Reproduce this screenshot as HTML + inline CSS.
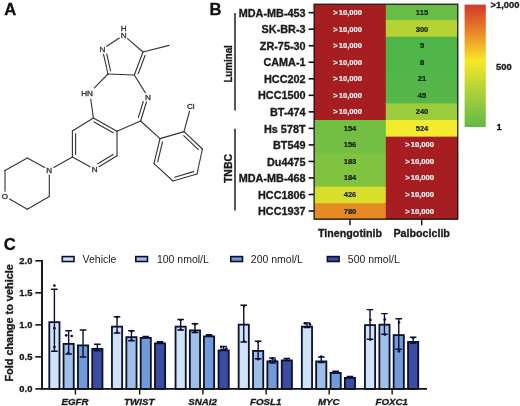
<!DOCTYPE html><html><head><meta charset="utf-8"><title>Figure</title><style>html,body{margin:0;padding:0;background:#fff}svg{display:block}text{font-family:"Liberation Sans",sans-serif}</style></head><body>
<svg width="520" height="406" viewBox="0 0 520 406">
<rect width="520" height="406" fill="#fff"/>
<g stroke="#343434" stroke-width="1.12" stroke-linecap="round" fill="none">
<line x1="119.26" y1="38.07" x2="106.74" y2="46.33"/>
<line x1="103.55" y1="54.27" x2="108.00" y2="74.00"/>
<line x1="106.78" y1="54.06" x2="110.55" y2="70.76"/>
<line x1="108.00" y1="74.00" x2="134.30" y2="75.00"/>
<line x1="134.30" y1="75.00" x2="143.00" y2="52.00"/>
<line x1="138.21" y1="73.70" x2="145.07" y2="55.56"/>
<line x1="143.00" y1="52.00" x2="127.53" y2="38.60"/>
<line x1="143.00" y1="52.00" x2="169.00" y2="45.40"/>
<line x1="108.00" y1="74.00" x2="94.35" y2="87.95"/>
<line x1="90.71" y1="99.04" x2="93.40" y2="118.00"/>
<line x1="93.40" y1="118.00" x2="117.00" y2="131.30"/>
<line x1="94.09" y1="122.06" x2="113.16" y2="132.81"/>
<line x1="117.00" y1="131.30" x2="140.60" y2="121.00"/>
<line x1="140.60" y1="121.00" x2="146.47" y2="101.97"/>
<line x1="138.31" y1="117.57" x2="143.26" y2="101.50"/>
<line x1="145.25" y1="92.59" x2="134.30" y2="75.00"/>
<line x1="117.00" y1="131.30" x2="117.00" y2="155.80"/>
<line x1="117.00" y1="155.80" x2="99.04" y2="166.70"/>
<line x1="113.12" y1="154.41" x2="97.81" y2="163.71"/>
<line x1="90.06" y1="166.86" x2="72.40" y2="157.00"/>
<line x1="72.40" y1="157.00" x2="72.40" y2="131.00"/>
<line x1="75.60" y1="154.40" x2="75.60" y2="133.60"/>
<line x1="72.40" y1="131.00" x2="93.40" y2="118.00"/>
<line x1="72.40" y1="157.00" x2="53.82" y2="167.53"/>
<line x1="44.74" y1="167.59" x2="27.30" y2="158.00"/>
<line x1="27.30" y1="158.00" x2="5.00" y2="170.40"/>
<line x1="5.00" y1="170.40" x2="5.00" y2="191.20"/>
<line x1="9.51" y1="198.99" x2="27.30" y2="209.20"/>
<line x1="27.30" y1="209.20" x2="49.30" y2="196.40"/>
<line x1="49.30" y1="196.40" x2="49.30" y2="175.30"/>
<line x1="140.60" y1="121.00" x2="160.00" y2="138.60"/>
<line x1="160.00" y1="138.60" x2="184.00" y2="131.60"/>
<line x1="184.00" y1="131.60" x2="202.40" y2="149.00"/>
<line x1="183.69" y1="135.71" x2="198.31" y2="149.54"/>
<line x1="202.40" y1="149.00" x2="197.00" y2="174.00"/>
<line x1="197.00" y1="174.00" x2="173.00" y2="181.00"/>
<line x1="193.61" y1="171.66" x2="174.60" y2="177.20"/>
<line x1="173.00" y1="181.00" x2="154.00" y2="163.60"/>
<line x1="154.00" y1="163.60" x2="160.00" y2="138.60"/>
<line x1="157.72" y1="161.82" x2="162.50" y2="141.88"/>
<line x1="184.00" y1="131.60" x2="189.50" y2="111.23"/>
</g>
<text x="123.60" y="38.10" font-size="8.1" fill="#343434" stroke="#343434" stroke-width="0.35" text-anchor="middle">N</text>
<text x="123.60" y="30.50" font-size="8.1" fill="#343434" stroke="#343434" stroke-width="0.35" text-anchor="middle">H</text>
<text x="102.40" y="52.10" font-size="8.1" fill="#343434" stroke="#343434" stroke-width="0.35" text-anchor="middle">N</text>
<text x="92.90" y="95.50" font-size="8.1" fill="#343434" stroke="#343434" stroke-width="0.35" text-anchor="end">HN</text>
<text x="148.00" y="99.90" font-size="8.1" fill="#343434" stroke="#343434" stroke-width="0.35" text-anchor="middle">N</text>
<text x="94.60" y="172.30" font-size="8.1" fill="#343434" stroke="#343434" stroke-width="0.35" text-anchor="middle">N</text>
<text x="49.30" y="173.00" font-size="8.1" fill="#343434" stroke="#343434" stroke-width="0.35" text-anchor="middle">N</text>
<text x="5.00" y="199.30" font-size="8.1" fill="#343434" stroke="#343434" stroke-width="0.35" text-anchor="middle">O</text>
<text x="190.80" y="109.30" font-size="8.1" fill="#343434" stroke="#343434" stroke-width="0.35" text-anchor="middle">Cl</text>
<text x="4.3" y="15.0" font-size="16.6" font-weight="bold" fill="#111" stroke="#111" stroke-width="0.32">A</text>
<text x="209.4" y="15.0" font-size="16.6" font-weight="bold" fill="#111" stroke="#111" stroke-width="0.32">B</text>
<rect x="384.8" y="4.20" width="73.00" height="214.90" fill="#69bc45"/>
<rect x="314.1" y="4.20" width="71.70" height="214.90" fill="#a61e22"/>
<rect x="384.8" y="20.10" width="73.00" height="199.00" fill="#b5d334"/>
<rect x="314.1" y="20.10" width="71.70" height="199.00" fill="#a61e22"/>
<rect x="384.8" y="36.75" width="73.00" height="182.35" fill="#50b548"/>
<rect x="314.1" y="36.75" width="71.70" height="182.35" fill="#a61e22"/>
<rect x="384.8" y="53.40" width="73.00" height="165.70" fill="#50b548"/>
<rect x="314.1" y="53.40" width="71.70" height="165.70" fill="#a61e22"/>
<rect x="384.8" y="70.05" width="73.00" height="149.05" fill="#52b648"/>
<rect x="314.1" y="70.05" width="71.70" height="149.05" fill="#a61e22"/>
<rect x="384.8" y="86.70" width="73.00" height="132.40" fill="#56b747"/>
<rect x="314.1" y="86.70" width="71.70" height="132.40" fill="#a61e22"/>
<rect x="384.8" y="103.35" width="73.00" height="115.75" fill="#9ccb3b"/>
<rect x="314.1" y="103.35" width="71.70" height="115.75" fill="#a61e22"/>
<rect x="384.8" y="120.00" width="73.00" height="99.10" fill="#f4ea2e"/>
<rect x="314.1" y="120.00" width="71.70" height="99.10" fill="#73bf44"/>
<rect x="384.8" y="136.65" width="73.00" height="82.45" fill="#a61e22"/>
<rect x="314.1" y="136.65" width="71.70" height="82.45" fill="#74bf44"/>
<rect x="384.8" y="153.30" width="73.00" height="65.80" fill="#a61e22"/>
<rect x="314.1" y="153.30" width="71.70" height="65.80" fill="#80c341"/>
<rect x="384.8" y="169.95" width="73.00" height="49.15" fill="#a61e22"/>
<rect x="314.1" y="169.95" width="71.70" height="49.15" fill="#80c341"/>
<rect x="384.8" y="186.60" width="73.00" height="32.50" fill="#a61e22"/>
<rect x="314.1" y="186.60" width="71.70" height="32.50" fill="#d9de2a"/>
<rect x="384.8" y="203.25" width="73.00" height="15.85" fill="#a61e22"/>
<rect x="314.1" y="203.25" width="71.70" height="15.85" fill="#e68a25"/>
<rect x="314.1" y="4.2" width="143.7" height="214.9" fill="none" stroke="#111" stroke-width="1.2"/>
<line x1="308.6" x2="314.1" y1="12.67" y2="12.67" stroke="#111" stroke-width="1.6"/>
<text x="305.6" y="16.82" font-size="10.85" font-weight="bold" fill="#1a1a1a" stroke="#1a1a1a" stroke-width="0.32" text-anchor="end">MDA-MB-453</text>
<text x="347.60" y="15.17" font-size="7.6" font-weight="bold" fill="#fff" stroke="#fff" stroke-width="0.15" text-anchor="middle">&gt;<tspan dx="1.1">10,000</tspan></text>
<text x="422.00" y="15.17" font-size="7.6" font-weight="bold" fill="#0e1a0c" stroke="#0e1a0c" stroke-width="0.15" text-anchor="middle">115</text>
<line x1="308.6" x2="314.1" y1="29.20" y2="29.20" stroke="#111" stroke-width="1.6"/>
<text x="305.6" y="33.35" font-size="10.85" font-weight="bold" fill="#1a1a1a" stroke="#1a1a1a" stroke-width="0.32" text-anchor="end">SK-BR-3</text>
<text x="347.60" y="31.70" font-size="7.6" font-weight="bold" fill="#fff" stroke="#fff" stroke-width="0.15" text-anchor="middle">&gt;<tspan dx="1.1">10,000</tspan></text>
<text x="422.00" y="31.70" font-size="7.6" font-weight="bold" fill="#0e1a0c" stroke="#0e1a0c" stroke-width="0.15" text-anchor="middle">300</text>
<line x1="308.6" x2="314.1" y1="45.73" y2="45.73" stroke="#111" stroke-width="1.6"/>
<text x="305.6" y="49.88" font-size="10.85" font-weight="bold" fill="#1a1a1a" stroke="#1a1a1a" stroke-width="0.32" text-anchor="end">ZR-75-30</text>
<text x="347.60" y="48.23" font-size="7.6" font-weight="bold" fill="#fff" stroke="#fff" stroke-width="0.15" text-anchor="middle">&gt;<tspan dx="1.1">10,000</tspan></text>
<text x="422.00" y="48.23" font-size="7.6" font-weight="bold" fill="#0e1a0c" stroke="#0e1a0c" stroke-width="0.15" text-anchor="middle">5</text>
<line x1="308.6" x2="314.1" y1="62.26" y2="62.26" stroke="#111" stroke-width="1.6"/>
<text x="305.6" y="66.41" font-size="10.85" font-weight="bold" fill="#1a1a1a" stroke="#1a1a1a" stroke-width="0.32" text-anchor="end">CAMA-1</text>
<text x="347.60" y="64.76" font-size="7.6" font-weight="bold" fill="#fff" stroke="#fff" stroke-width="0.15" text-anchor="middle">&gt;<tspan dx="1.1">10,000</tspan></text>
<text x="422.00" y="64.76" font-size="7.6" font-weight="bold" fill="#0e1a0c" stroke="#0e1a0c" stroke-width="0.15" text-anchor="middle">8</text>
<line x1="308.6" x2="314.1" y1="78.79" y2="78.79" stroke="#111" stroke-width="1.6"/>
<text x="305.6" y="82.94" font-size="10.85" font-weight="bold" fill="#1a1a1a" stroke="#1a1a1a" stroke-width="0.32" text-anchor="end">HCC202</text>
<text x="347.60" y="81.29" font-size="7.6" font-weight="bold" fill="#fff" stroke="#fff" stroke-width="0.15" text-anchor="middle">&gt;<tspan dx="1.1">10,000</tspan></text>
<text x="422.00" y="81.29" font-size="7.6" font-weight="bold" fill="#0e1a0c" stroke="#0e1a0c" stroke-width="0.15" text-anchor="middle">21</text>
<line x1="308.6" x2="314.1" y1="95.32" y2="95.32" stroke="#111" stroke-width="1.6"/>
<text x="305.6" y="99.47" font-size="10.85" font-weight="bold" fill="#1a1a1a" stroke="#1a1a1a" stroke-width="0.32" text-anchor="end">HCC1500</text>
<text x="347.60" y="97.82" font-size="7.6" font-weight="bold" fill="#fff" stroke="#fff" stroke-width="0.15" text-anchor="middle">&gt;<tspan dx="1.1">10,000</tspan></text>
<text x="422.00" y="97.82" font-size="7.6" font-weight="bold" fill="#0e1a0c" stroke="#0e1a0c" stroke-width="0.15" text-anchor="middle">45</text>
<line x1="308.6" x2="314.1" y1="111.85" y2="111.85" stroke="#111" stroke-width="1.6"/>
<text x="305.6" y="116.00" font-size="10.85" font-weight="bold" fill="#1a1a1a" stroke="#1a1a1a" stroke-width="0.32" text-anchor="end">BT-474</text>
<text x="347.60" y="114.35" font-size="7.6" font-weight="bold" fill="#fff" stroke="#fff" stroke-width="0.15" text-anchor="middle">&gt;<tspan dx="1.1">10,000</tspan></text>
<text x="422.00" y="114.35" font-size="7.6" font-weight="bold" fill="#0e1a0c" stroke="#0e1a0c" stroke-width="0.15" text-anchor="middle">240</text>
<line x1="308.6" x2="314.1" y1="128.38" y2="128.38" stroke="#111" stroke-width="1.6"/>
<text x="305.6" y="132.53" font-size="10.85" font-weight="bold" fill="#1a1a1a" stroke="#1a1a1a" stroke-width="0.32" text-anchor="end">Hs 578T</text>
<text x="350.00" y="130.88" font-size="7.6" font-weight="bold" fill="#0e1a0c" stroke="#0e1a0c" stroke-width="0.15" text-anchor="middle">154</text>
<text x="422.00" y="130.88" font-size="7.6" font-weight="bold" fill="#0e1a0c" stroke="#0e1a0c" stroke-width="0.15" text-anchor="middle">524</text>
<line x1="308.6" x2="314.1" y1="144.91" y2="144.91" stroke="#111" stroke-width="1.6"/>
<text x="305.6" y="149.06" font-size="10.85" font-weight="bold" fill="#1a1a1a" stroke="#1a1a1a" stroke-width="0.32" text-anchor="end">BT549</text>
<text x="350.00" y="147.41" font-size="7.6" font-weight="bold" fill="#0e1a0c" stroke="#0e1a0c" stroke-width="0.15" text-anchor="middle">156</text>
<text x="419.60" y="147.41" font-size="7.6" font-weight="bold" fill="#fff" stroke="#fff" stroke-width="0.15" text-anchor="middle">&gt;<tspan dx="1.1">10,000</tspan></text>
<line x1="308.6" x2="314.1" y1="161.44" y2="161.44" stroke="#111" stroke-width="1.6"/>
<text x="305.6" y="165.59" font-size="10.85" font-weight="bold" fill="#1a1a1a" stroke="#1a1a1a" stroke-width="0.32" text-anchor="end">Du4475</text>
<text x="350.00" y="163.94" font-size="7.6" font-weight="bold" fill="#0e1a0c" stroke="#0e1a0c" stroke-width="0.15" text-anchor="middle">183</text>
<text x="419.60" y="163.94" font-size="7.6" font-weight="bold" fill="#fff" stroke="#fff" stroke-width="0.15" text-anchor="middle">&gt;<tspan dx="1.1">10,000</tspan></text>
<line x1="308.6" x2="314.1" y1="177.97" y2="177.97" stroke="#111" stroke-width="1.6"/>
<text x="305.6" y="182.12" font-size="10.85" font-weight="bold" fill="#1a1a1a" stroke="#1a1a1a" stroke-width="0.32" text-anchor="end">MDA-MB-468</text>
<text x="350.00" y="180.47" font-size="7.6" font-weight="bold" fill="#0e1a0c" stroke="#0e1a0c" stroke-width="0.15" text-anchor="middle">184</text>
<text x="419.60" y="180.47" font-size="7.6" font-weight="bold" fill="#fff" stroke="#fff" stroke-width="0.15" text-anchor="middle">&gt;<tspan dx="1.1">10,000</tspan></text>
<line x1="308.6" x2="314.1" y1="194.50" y2="194.50" stroke="#111" stroke-width="1.6"/>
<text x="305.6" y="198.65" font-size="10.85" font-weight="bold" fill="#1a1a1a" stroke="#1a1a1a" stroke-width="0.32" text-anchor="end">HCC1806</text>
<text x="350.00" y="197.00" font-size="7.6" font-weight="bold" fill="#0e1a0c" stroke="#0e1a0c" stroke-width="0.15" text-anchor="middle">426</text>
<text x="419.60" y="197.00" font-size="7.6" font-weight="bold" fill="#fff" stroke="#fff" stroke-width="0.15" text-anchor="middle">&gt;<tspan dx="1.1">10,000</tspan></text>
<line x1="308.6" x2="314.1" y1="211.03" y2="211.03" stroke="#111" stroke-width="1.6"/>
<text x="305.6" y="215.18" font-size="10.85" font-weight="bold" fill="#1a1a1a" stroke="#1a1a1a" stroke-width="0.32" text-anchor="end">HCC1937</text>
<text x="350.00" y="213.53" font-size="7.6" font-weight="bold" fill="#0e1a0c" stroke="#0e1a0c" stroke-width="0.15" text-anchor="middle">780</text>
<text x="419.60" y="213.53" font-size="7.6" font-weight="bold" fill="#fff" stroke="#fff" stroke-width="0.15" text-anchor="middle">&gt;<tspan dx="1.1">10,000</tspan></text>
<line x1="235" x2="235" y1="13" y2="110.5" stroke="#111" stroke-width="1.4"/>
<line x1="235" x2="235" y1="128.8" y2="210.5" stroke="#111" stroke-width="1.4"/>
<text transform="translate(232.2,63.9) rotate(-90) scale(0.905,1)" font-size="10.8" font-weight="bold" fill="#1a1a1a" stroke="#1a1a1a" stroke-width="0.32" text-anchor="middle">Luminal</text>
<text transform="translate(231.7,168.5) rotate(-90)" font-size="10.5" font-weight="bold" fill="#1a1a1a" stroke="#1a1a1a" stroke-width="0.32" text-anchor="middle">TNBC</text>
<line x1="350" x2="350" y1="219.1" y2="225.2" stroke="#111" stroke-width="1.4"/>
<line x1="421.7" x2="421.7" y1="219.1" y2="225.2" stroke="#111" stroke-width="1.4"/>
<text x="350" y="237.25" font-size="10.7" font-weight="bold" fill="#1a1a1a" stroke="#1a1a1a" stroke-width="0.32" text-anchor="middle">Tinengotinib</text>
<text x="421.7" y="237.25" font-size="10.7" font-weight="bold" fill="#1a1a1a" stroke="#1a1a1a" stroke-width="0.32" text-anchor="middle">Palbociclib</text>
<defs><linearGradient id="cb" x1="0" y1="0" x2="0" y2="1"><stop offset="0" stop-color="#d2382c"/><stop offset="0.22" stop-color="#e98428"/><stop offset="0.46" stop-color="#f6e926"/><stop offset="0.73" stop-color="#aacf38"/><stop offset="1" stop-color="#5fba46"/></linearGradient></defs>
<rect x="464.6" y="4.6" width="21.2" height="122.4" fill="url(#cb)"/>
<text x="490.5" y="8.1" font-size="9.4" font-weight="bold" fill="#1a1a1a" stroke="#1a1a1a" stroke-width="0.32">&gt;1,000</text>
<text x="496" y="69.9" font-size="9.4" font-weight="bold" fill="#1a1a1a" stroke="#1a1a1a" stroke-width="0.32">500</text>
<text x="496.4" y="130.0" font-size="9.4" font-weight="bold" fill="#1a1a1a" stroke="#1a1a1a" stroke-width="0.32">1</text>
<text x="3.8" y="249.6" font-size="16.6" font-weight="bold" fill="#111" stroke="#111" stroke-width="0.32">C</text>
<rect x="62.300000000000004" y="256.6" width="11.7" height="4.9" fill="#d0e2f5" stroke="#0b1030" stroke-width="1.6"/>
<text x="82.6" y="262.8" font-size="10.5" fill="#222">Vehicle</text>
<rect x="135.79999999999998" y="256.6" width="11.7" height="4.9" fill="#9ebfe8" stroke="#0b1030" stroke-width="1.6"/>
<text x="156.9" y="262.8" font-size="10.5" fill="#222">100 nmol/L</text>
<rect x="230.79999999999998" y="256.6" width="11.7" height="4.9" fill="#719bd8" stroke="#0b1030" stroke-width="1.6"/>
<text x="250.79999999999998" y="262.8" font-size="10.5" fill="#222">200 nmol/L</text>
<rect x="327.4" y="256.6" width="11.7" height="4.9" fill="#3b4da3" stroke="#0b1030" stroke-width="1.6"/>
<text x="347.8" y="262.8" font-size="10.5" fill="#222">500 nmol/L</text>
<rect x="49.30" y="322.15" width="10.20" height="66.75" fill="#d0e2f5" stroke="#0b1030" stroke-width="1.8"/>
<path d="M54.40 289.25V351.25M51.10 289.25H57.70M51.10 351.25H57.70" stroke="#0b1030" stroke-width="1.4" fill="none"/>
<rect x="63.55" y="343.90" width="10.20" height="45.00" fill="#9ebfe8" stroke="#0b1030" stroke-width="1.8"/>
<path d="M68.65 330.75V354.00M65.35 330.75H71.95M65.35 354.00H71.95" stroke="#0b1030" stroke-width="1.4" fill="none"/>
<rect x="77.95" y="345.40" width="10.20" height="43.50" fill="#719bd8" stroke="#0b1030" stroke-width="1.8"/>
<path d="M83.05 330.00V357.00M79.75 330.00H86.35M79.75 357.00H86.35" stroke="#0b1030" stroke-width="1.4" fill="none"/>
<rect x="92.25" y="348.90" width="10.20" height="40.00" fill="#3b4da3" stroke="#0b1030" stroke-width="1.8"/>
<path d="M97.35 344.25V350.75M94.05 344.25H100.65M94.05 350.75H100.65" stroke="#0b1030" stroke-width="1.4" fill="none"/>
<line x1="75.4" x2="75.4" y1="388.9" y2="394.6" stroke="#111" stroke-width="1.4"/>
<text x="75" y="404.8" font-size="9.75" font-weight="bold" font-style="italic" fill="#1a1a1a" stroke="#1a1a1a" stroke-width="0.32" text-anchor="middle">EGFR</text>
<rect x="111.95" y="326.65" width="10.20" height="62.25" fill="#d0e2f5" stroke="#0b1030" stroke-width="1.8"/>
<path d="M117.05 316.75V333.00M113.75 316.75H120.35M113.75 333.00H120.35" stroke="#0b1030" stroke-width="1.4" fill="none"/>
<rect x="126.35" y="337.15" width="10.20" height="51.75" fill="#9ebfe8" stroke="#0b1030" stroke-width="1.8"/>
<path d="M131.45 330.75V340.75M128.15 330.75H134.75M128.15 340.75H134.75" stroke="#0b1030" stroke-width="1.4" fill="none"/>
<rect x="140.65" y="337.90" width="10.20" height="51.00" fill="#719bd8" stroke="#0b1030" stroke-width="1.8"/>
<path d="M145.75 336.40V337.60M142.45 336.40H149.05M142.45 337.60H149.05" stroke="#0b1030" stroke-width="1.4" fill="none"/>
<rect x="154.95" y="343.40" width="10.20" height="45.50" fill="#3b4da3" stroke="#0b1030" stroke-width="1.8"/>
<path d="M160.05 341.70V343.30M156.75 341.70H163.35M156.75 343.30H163.35" stroke="#0b1030" stroke-width="1.4" fill="none"/>
<line x1="139.65" x2="139.65" y1="388.9" y2="394.6" stroke="#111" stroke-width="1.4"/>
<text x="139.25" y="404.8" font-size="9.75" font-weight="bold" font-style="italic" fill="#1a1a1a" stroke="#1a1a1a" stroke-width="0.32" text-anchor="middle">TWIST</text>
<rect x="175.55" y="326.65" width="10.20" height="62.25" fill="#d0e2f5" stroke="#0b1030" stroke-width="1.8"/>
<path d="M180.65 319.50V330.00M177.35 319.50H183.95M177.35 330.00H183.95" stroke="#0b1030" stroke-width="1.4" fill="none"/>
<rect x="189.85" y="330.40" width="10.20" height="58.50" fill="#9ebfe8" stroke="#0b1030" stroke-width="1.8"/>
<path d="M194.95 323.75V332.50M191.65 323.75H198.25M191.65 332.50H198.25" stroke="#0b1030" stroke-width="1.4" fill="none"/>
<rect x="203.95" y="336.40" width="10.20" height="52.50" fill="#719bd8" stroke="#0b1030" stroke-width="1.8"/>
<path d="M209.05 334.80V336.20M205.75 334.80H212.35M205.75 336.20H212.35" stroke="#0b1030" stroke-width="1.4" fill="none"/>
<rect x="218.55" y="350.40" width="10.20" height="38.50" fill="#3b4da3" stroke="#0b1030" stroke-width="1.8"/>
<path d="M223.65 346.40V349.50M220.35 346.40H226.95M220.35 349.50H226.95" stroke="#0b1030" stroke-width="1.4" fill="none"/>
<line x1="202.9" x2="202.9" y1="388.9" y2="394.6" stroke="#111" stroke-width="1.4"/>
<text x="202.5" y="404.8" font-size="9.75" font-weight="bold" font-style="italic" fill="#1a1a1a" stroke="#1a1a1a" stroke-width="0.32" text-anchor="middle">SNAI2</text>
<rect x="238.65" y="324.65" width="10.20" height="64.25" fill="#d0e2f5" stroke="#0b1030" stroke-width="1.8"/>
<path d="M243.75 305.25V342.00M240.45 305.25H247.05M240.45 342.00H247.05" stroke="#0b1030" stroke-width="1.4" fill="none"/>
<rect x="253.05" y="350.90" width="10.20" height="38.00" fill="#9ebfe8" stroke="#0b1030" stroke-width="1.8"/>
<path d="M258.15 341.25V358.75M254.85 341.25H261.45M254.85 358.75H261.45" stroke="#0b1030" stroke-width="1.4" fill="none"/>
<rect x="267.35" y="361.40" width="10.20" height="27.50" fill="#719bd8" stroke="#0b1030" stroke-width="1.8"/>
<path d="M272.45 358.00V363.00M269.15 358.00H275.75M269.15 363.00H275.75" stroke="#0b1030" stroke-width="1.4" fill="none"/>
<rect x="281.75" y="360.40" width="10.20" height="28.50" fill="#3b4da3" stroke="#0b1030" stroke-width="1.8"/>
<path d="M286.85 358.50V360.50M283.55 358.50H290.15M283.55 360.50H290.15" stroke="#0b1030" stroke-width="1.4" fill="none"/>
<line x1="266.15" x2="266.15" y1="388.9" y2="394.6" stroke="#111" stroke-width="1.4"/>
<text x="265.75" y="404.8" font-size="9.75" font-weight="bold" font-style="italic" fill="#1a1a1a" stroke="#1a1a1a" stroke-width="0.32" text-anchor="middle">FOSL1</text>
<rect x="301.85" y="326.65" width="10.20" height="62.25" fill="#d0e2f5" stroke="#0b1030" stroke-width="1.8"/>
<path d="M306.95 323.00V327.50M303.65 323.00H310.25M303.65 327.50H310.25" stroke="#0b1030" stroke-width="1.4" fill="none"/>
<rect x="316.15" y="361.40" width="10.20" height="27.50" fill="#9ebfe8" stroke="#0b1030" stroke-width="1.8"/>
<path d="M321.25 357.00V362.50M317.95 357.00H324.55M317.95 362.50H324.55" stroke="#0b1030" stroke-width="1.4" fill="none"/>
<rect x="330.55" y="372.90" width="10.20" height="16.00" fill="#719bd8" stroke="#0b1030" stroke-width="1.8"/>
<path d="M335.65 371.30V372.70M332.35 371.30H338.95M332.35 372.70H338.95" stroke="#0b1030" stroke-width="1.4" fill="none"/>
<rect x="344.85" y="377.90" width="10.20" height="11.00" fill="#3b4da3" stroke="#0b1030" stroke-width="1.8"/>
<path d="M349.95 376.40V377.60M346.65 376.40H353.25M346.65 377.60H353.25" stroke="#0b1030" stroke-width="1.4" fill="none"/>
<line x1="329.15" x2="329.15" y1="388.9" y2="394.6" stroke="#111" stroke-width="1.4"/>
<text x="328.75" y="404.8" font-size="9.75" font-weight="bold" font-style="italic" fill="#1a1a1a" stroke="#1a1a1a" stroke-width="0.32" text-anchor="middle">MYC</text>
<rect x="364.95" y="325.10" width="10.20" height="63.80" fill="#d0e2f5" stroke="#0b1030" stroke-width="1.8"/>
<path d="M370.05 309.60V339.30M366.75 309.60H373.35M366.75 339.30H373.35" stroke="#0b1030" stroke-width="1.4" fill="none"/>
<rect x="379.35" y="324.70" width="10.20" height="64.20" fill="#9ebfe8" stroke="#0b1030" stroke-width="1.8"/>
<path d="M384.45 313.60V334.20M381.15 313.60H387.75M381.15 334.20H387.75" stroke="#0b1030" stroke-width="1.4" fill="none"/>
<rect x="393.65" y="335.10" width="10.20" height="53.80" fill="#719bd8" stroke="#0b1030" stroke-width="1.8"/>
<path d="M398.75 318.80V349.30M395.45 318.80H402.05M395.45 349.30H402.05" stroke="#0b1030" stroke-width="1.4" fill="none"/>
<rect x="408.05" y="341.90" width="10.20" height="47.00" fill="#3b4da3" stroke="#0b1030" stroke-width="1.8"/>
<path d="M413.15 337.30V343.30M409.85 337.30H416.45M409.85 343.30H416.45" stroke="#0b1030" stroke-width="1.4" fill="none"/>
<line x1="392.15" x2="392.15" y1="388.9" y2="394.6" stroke="#111" stroke-width="1.4"/>
<text x="391.75" y="404.8" font-size="9.75" font-weight="bold" font-style="italic" fill="#1a1a1a" stroke="#1a1a1a" stroke-width="0.32" text-anchor="middle">FOXC1</text>
<circle cx="54.4" cy="285.6" r="1.35" fill="#0b1030"/>
<circle cx="54.4" cy="328.2" r="1.35" fill="#0b1030"/>
<circle cx="54.4" cy="347" r="1.35" fill="#0b1030"/>
<circle cx="66.2" cy="335.3" r="1.35" fill="#0b1030"/>
<circle cx="71.7" cy="336" r="1.35" fill="#0b1030"/>
<circle cx="68.3" cy="353" r="1.35" fill="#0b1030"/>
<circle cx="117.1" cy="317.2" r="1.35" fill="#0b1030"/>
<circle cx="117.1" cy="332.5" r="1.35" fill="#0b1030"/>
<circle cx="131.5" cy="331.2" r="1.35" fill="#0b1030"/>
<circle cx="131.5" cy="340" r="1.35" fill="#0b1030"/>
<circle cx="160" cy="342.3" r="1.35" fill="#0b1030"/>
<circle cx="180.7" cy="320" r="1.35" fill="#0b1030"/>
<circle cx="180.7" cy="329.6" r="1.35" fill="#0b1030"/>
<circle cx="195" cy="324.2" r="1.35" fill="#0b1030"/>
<circle cx="195" cy="332" r="1.35" fill="#0b1030"/>
<circle cx="221.3" cy="347" r="1.35" fill="#0b1030"/>
<circle cx="226.3" cy="348.6" r="1.35" fill="#0b1030"/>
<circle cx="244" cy="306" r="1.35" fill="#0b1030"/>
<circle cx="244" cy="341.3" r="1.35" fill="#0b1030"/>
<circle cx="258.2" cy="341.8" r="1.35" fill="#0b1030"/>
<circle cx="258.2" cy="359.2" r="1.35" fill="#0b1030"/>
<circle cx="270.2" cy="361" r="1.35" fill="#0b1030"/>
<circle cx="275" cy="360.4" r="1.35" fill="#0b1030"/>
<circle cx="272.5" cy="358.6" r="1.35" fill="#0b1030"/>
<circle cx="305" cy="323.3" r="1.35" fill="#0b1030"/>
<circle cx="310" cy="324.4" r="1.35" fill="#0b1030"/>
<circle cx="321.3" cy="356.6" r="1.35" fill="#0b1030"/>
<circle cx="370.4" cy="320" r="1.35" fill="#0b1030"/>
<circle cx="370.4" cy="339.6" r="1.35" fill="#0b1030"/>
<circle cx="384.8" cy="319.6" r="1.35" fill="#0b1030"/>
<circle cx="384.8" cy="334.6" r="1.35" fill="#0b1030"/>
<circle cx="399" cy="322.5" r="1.35" fill="#0b1030"/>
<circle cx="399" cy="351.3" r="1.35" fill="#0b1030"/>
<circle cx="413.3" cy="338" r="1.35" fill="#0b1030"/>
<path d="M42 260.10V388.9H427" stroke="#111" stroke-width="1.9" fill="none"/>
<line x1="35.3" x2="42" y1="388.90" y2="388.90" stroke="#111" stroke-width="1.6"/>
<text x="32.4" y="392.25" font-size="9.4" font-weight="bold" fill="#1a1a1a" stroke="#1a1a1a" stroke-width="0.32" text-anchor="end">0.0</text>
<line x1="35.3" x2="42" y1="356.88" y2="356.88" stroke="#111" stroke-width="1.6"/>
<text x="32.4" y="360.23" font-size="9.4" font-weight="bold" fill="#1a1a1a" stroke="#1a1a1a" stroke-width="0.32" text-anchor="end">0.5</text>
<line x1="35.3" x2="42" y1="324.85" y2="324.85" stroke="#111" stroke-width="1.6"/>
<text x="32.4" y="328.20" font-size="9.4" font-weight="bold" fill="#1a1a1a" stroke="#1a1a1a" stroke-width="0.32" text-anchor="end">1.0</text>
<line x1="35.3" x2="42" y1="292.82" y2="292.82" stroke="#111" stroke-width="1.6"/>
<text x="32.4" y="296.18" font-size="9.4" font-weight="bold" fill="#1a1a1a" stroke="#1a1a1a" stroke-width="0.32" text-anchor="end">1.5</text>
<line x1="35.3" x2="42" y1="260.80" y2="260.80" stroke="#111" stroke-width="1.6"/>
<text x="32.4" y="264.15" font-size="9.4" font-weight="bold" fill="#1a1a1a" stroke="#1a1a1a" stroke-width="0.32" text-anchor="end">2.0</text>
<text transform="translate(13.0,322.9) rotate(-90)" font-size="10.9" font-weight="bold" fill="#1a1a1a" stroke="#1a1a1a" stroke-width="0.32" text-anchor="middle">Fold change to vehicle</text>
</svg></body></html>
